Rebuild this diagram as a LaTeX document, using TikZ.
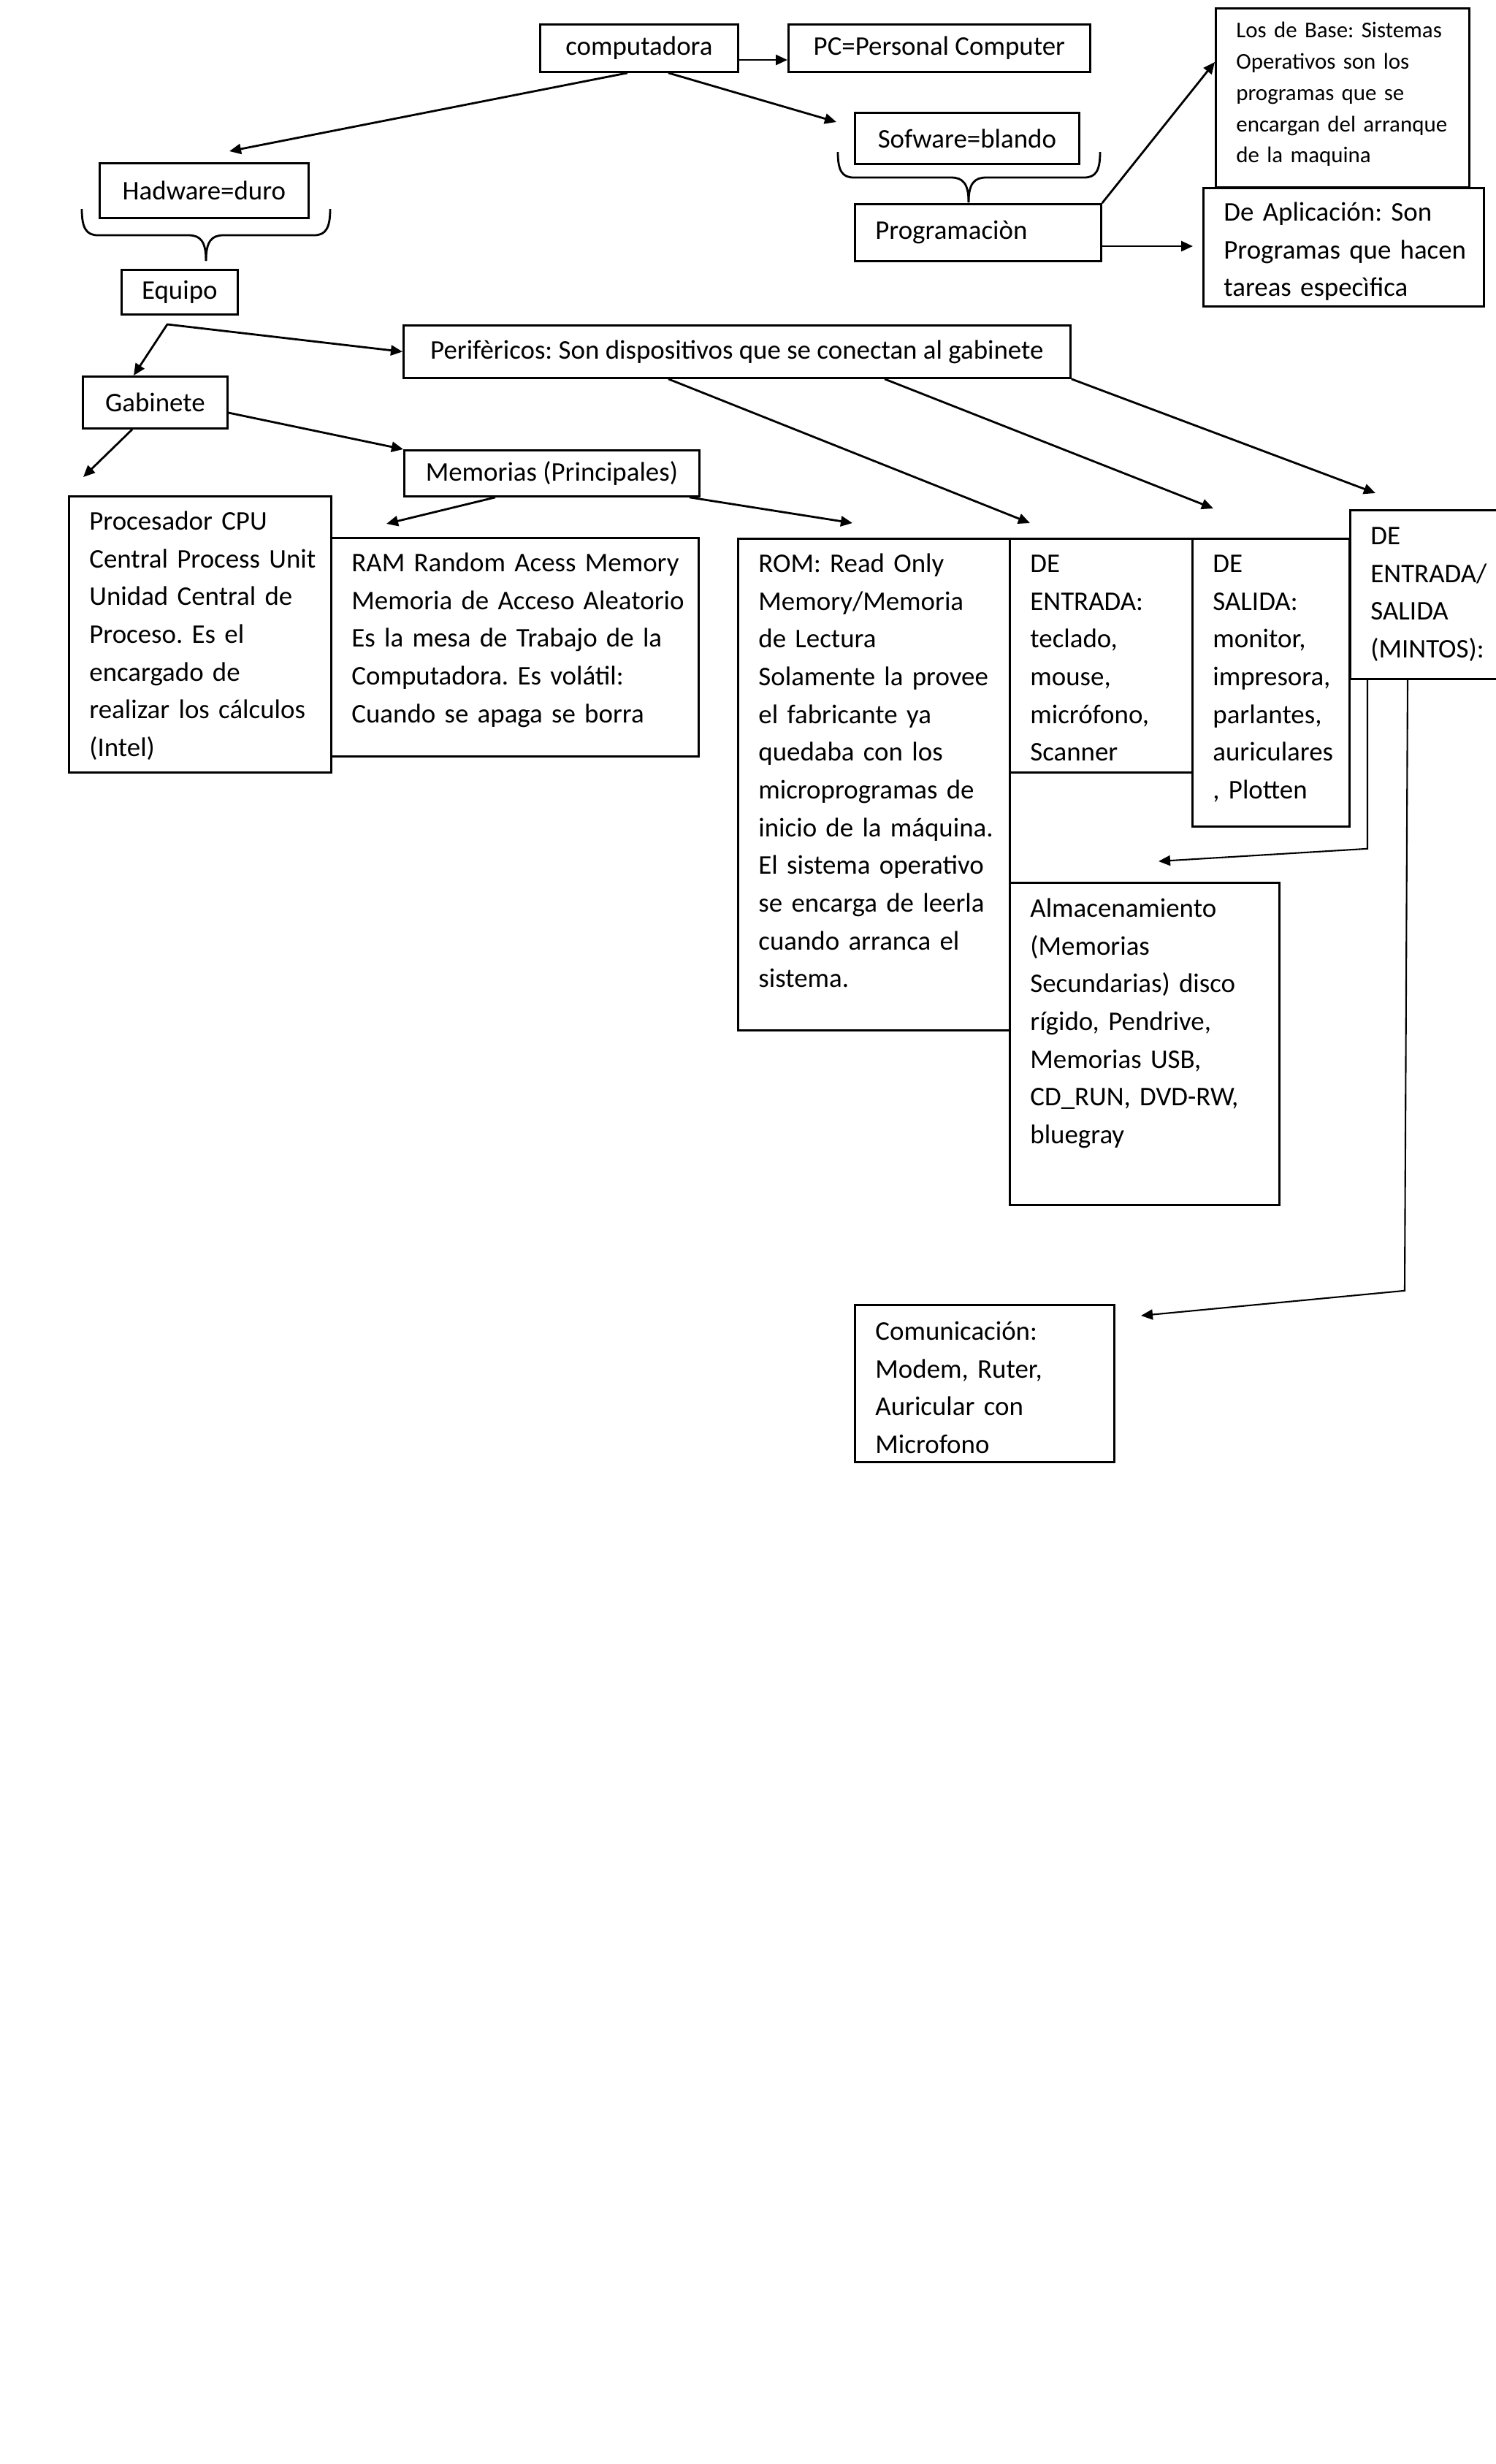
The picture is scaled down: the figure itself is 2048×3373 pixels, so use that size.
\documentclass[tikz,border=0pt]{standalone}
\usepackage{fontspec}
\setmainfont{Carlito}
\usetikzlibrary{arrows.meta,calc}
\hyphenpenalty=10000
\exhyphenpenalty=10000
\frenchspacing
\begin{document}
\begin{tikzpicture}
	[x=0.1mm,y=-0.1mm,
	every node/.style={draw,line width=0.8pt,fill=white,inner sep=0pt,font=\fontsize{10.5}{14.7}\selectfont\frenchspacing},
	caja/.style 2 args={anchor=north west,minimum width=#1,minimum height=#2},
	cajatexto/.style n args={3}{anchor=north west,inner xsep=0pt,align=left,text width=#1,text height=#2,text depth=#3,execute at begin node={\leftskip=2.8mm}},
	flecha/.style={line width=0.8pt,-{Triangle[length=1.6mm,width=1.4mm]}},
	doble/.style={line width=0.8pt,line join=round,{Triangle[length=1.6mm,width=1.4mm]}-{Triangle[length=1.6mm,width=1.4mm]}},
	fina/.style={line width=0.6pt,-{Triangle[length=1.6mm,width=1.4mm]}},
	llave/.style={line width=0.8pt}]
	\useasboundingbox (0,0) rectangle (2048,3373);
	\clip (0,0) rectangle (2048,3373);
	\node[caja={27.1mm}{6.5mm}] (comp) at (738,32) {computadora};
	\node[caja={41.3mm}{6.5mm}] (pc) at (1078,32) {PC=Personal Computer};
	\node[caja={28.6mm}{7.5mm}] (hard) at (135,222) {Hadware=duro};
	\node[caja={30.7mm}{7mm}] (soft) at (1169,153) {Sofware=blando};
	\node[anchor=north west,inner xsep=2.8mm,align=left,text width=28.1mm,minimum height=7.8mm] (prog) at (1169,278) {Programaciòn};
	\node[cajatexto={34.7mm}{4mm}{20.5mm},font=\fontsize{8.8}{12.2}\selectfont] (base) at (1663,10) {Los de Base: Sistemas\\Operativos son los\\programas que se\\encargan del arranque\\de la maquina};
	\node[cajatexto={38.4mm}{4.5mm}{11.7mm}] (apli) at (1646,256) {De Aplicación: Son\\Programas que hacen\\tareas especìfica};
	\node[caja={15.9mm}{6.1mm}] (equipo) at (165,368) {Equipo};
	\node[caja={19.8mm}{7.1mm}] (gab) at (112,514) {Gabinete};
	\node[caja={91.3mm}{7.2mm}] (perif) at (551,444) {Perifèricos: Son dispositivos que se conectan al gabinete};
	\node[caja={40.4mm}{6.3mm}] (mem) at (552,615) {Memorias (Principales)};
	\node[cajatexto={35.9mm}{4.6mm}{33.2mm}] (cpu) at (93,678) {Procesador CPU\\Central Process Unit\\Unidad Central de\\Proceso. Es el\\encargado de\\realizar los cálculos\\(Intel)};
	\node[cajatexto={50.3mm}{4.6mm}{25.3mm}] (ram) at (452,735) {RAM Random Acess Memory\\Memoria de Acceso Aleatorio\\Es la mesa de Trabajo de la\\Computadora. Es volátil:\\Cuando se apaga se borra};
	\node[cajatexto={37.2mm}{4.6mm}{62.7mm}] (rom) at (1009,736) {ROM: Read Only\\Memory/Memoria\\de Lectura\\Solamente la provee\\el fabricante ya\\quedaba con los\\microprogramas de\\inicio de la máquina.\\El sistema operativo\\se encarga de leerla\\cuando arranca el\\sistema.};
	\node[cajatexto={25mm}{4.6mm}{27.4mm}] (ent) at (1381,736) {DE\\ENTRADA:\\teclado,\\mouse,\\micrófono,\\Scanner};
	\node[cajatexto={21.5mm}{4.6mm}{34.8mm}] (sal) at (1631,736) {DE\\SALIDA:\\monitor,\\impresora,\\parlantes,\\auriculares\\, Plotten};
	\node[cajatexto={23.3mm}{4.7mm}{18.4mm}] (entsal) at (1847,697) {DE\\ENTRADA/\\SALIDA\\(MINTOS):};
	\node[cajatexto={36.9mm}{4.7mm}{39.4mm}] (alm) at (1381,1207) {Almacenamiento\\(Memorias\\Secundarias) disco\\rígido, Pendrive,\\Memorias USB,\\CD\_RUN, DVD-RW,\\bluegray};
	\node[cajatexto={35.5mm}{4.8mm}{16.7mm}] (com) at (1169,1785) {Comunicación:\\Modem, Ruter,\\Auricular con\\Microfono};
	\coordinate (hardtip) at (314,207);
	\coordinate (softtip) at (1145,167);
	\coordinate (aplitip) at (1633,337);
	\coordinate (equipofork) at (229,444);
	\coordinate (cputip) at (114,653);
	\coordinate (ramtip) at (529,717);
	\coordinate (romtip) at (1167,716);
	\coordinate (enttip) at (1410,716);
	\coordinate (saltip) at (1661,696);
	\coordinate (entsaltip) at (1883,675);
	\coordinate (almtip) at (1586,1179);
	\coordinate (comtip) at (1562,1801);
	\draw[llave] (112,286) .. controls (112,312) and (118,322) .. (134,322) -- (258,322) .. controls (274,322) and (282,330) .. (282,357);
	\draw[llave] (452,286) .. controls (452,312) and (446,322) .. (430,322) -- (306,322) .. controls (290,322) and (282,330) .. (282,357);
	\draw[llave] (1147,208) .. controls (1147,234) and (1153,243) .. (1169,243) -- (1302,243) .. controls (1318,243) and (1326,251) .. (1326,277);
	\draw[llave] (1506,208) .. controls (1506,234) and (1500,243) .. (1484,243) -- (1350,243) .. controls (1334,243) and (1326,251) .. (1326,277);
	\draw[flecha] ($(comp.south west)+(121,0)$) -- (hardtip);
	\draw[flecha] ($(comp.north east)+(0,50)$) -- ($(pc.north west)+(0,50)$);
	\draw[flecha] ($(comp.south west)+(177,0)$) -- (softtip);
	\draw[flecha] (prog.north east) -- ($(base.north west)+(0,75)$);
	\draw[flecha] ($(prog.north east)+(0,59)$) -- (aplitip);
	\draw[doble] ($(gab.north west)+(71,0)$) -- (equipofork) -- (perif.west);
	\draw[flecha] ($(gab.south west)+(69,0)$) -- (cputip);
	\draw[flecha] ($(gab.north east)+(0,51)$) -- (mem.north west);
	\draw[flecha] ($(mem.south west)+(126,0)$) -- (ramtip);
	\draw[flecha] ($(mem.south west)+(392,0)$) -- (romtip);
	\draw[flecha] ($(perif.south west)+(364,0)$) -- (enttip);
	\draw[flecha] ($(perif.south west)+(660,0)$) -- (saltip);
	\draw[flecha] (perif.south east) -- (entsaltip);
	\draw[fina] ($(entsal.south west)+(25,0)$) -- ++(0,231) -- (almtip);
	\draw[fina] ($(entsal.south west)+(80,0)$) -- ++(-4,836) -- (comtip);
\end{tikzpicture}
\end{document}
